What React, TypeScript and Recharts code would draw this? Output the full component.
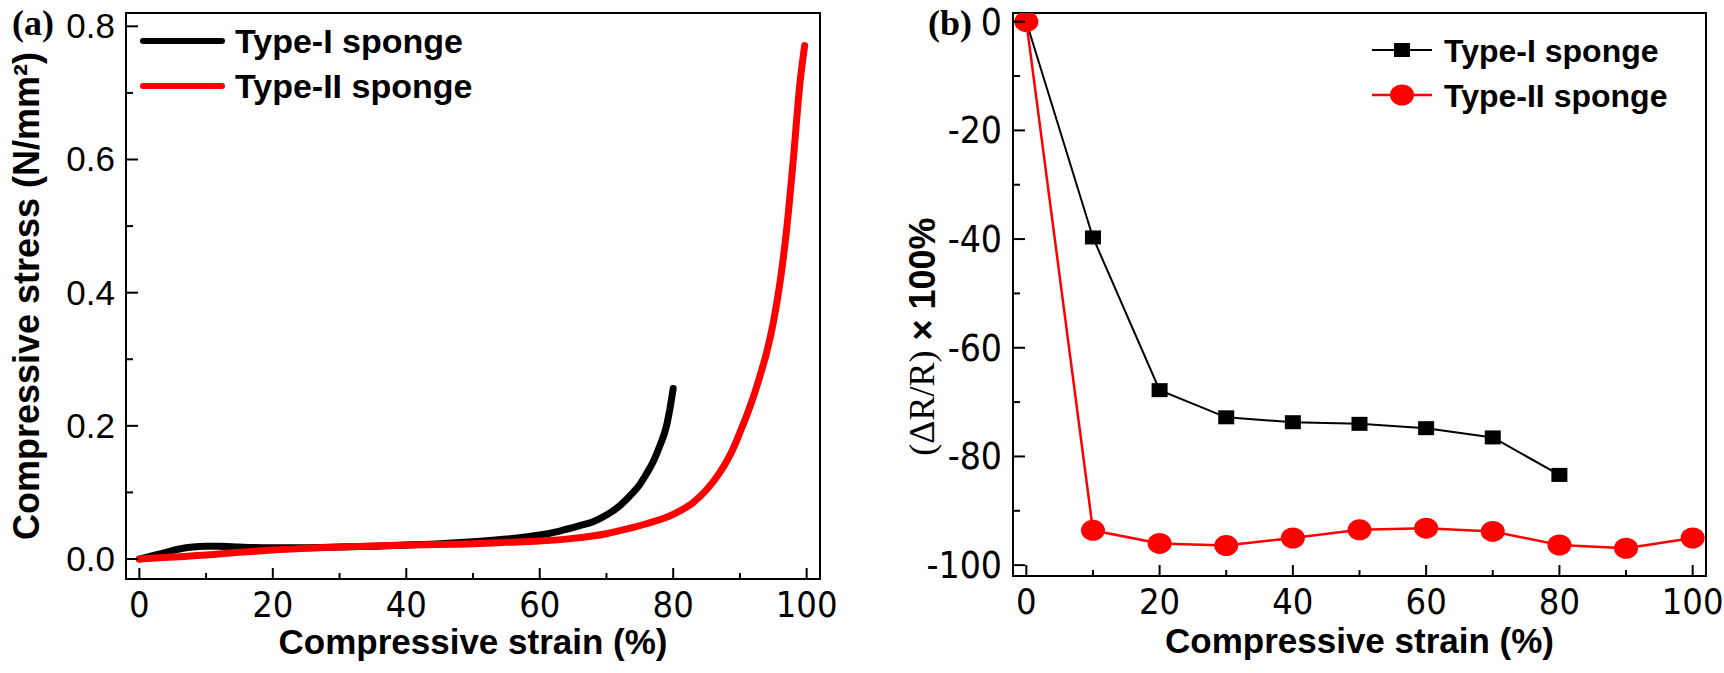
import React from "react";
import { LineChart, Line, XAxis, YAxis, ReferenceArea, Label } from "recharts";

// (a) stress-strain curves
const strainI = [0, 2, 4, 6, 8, 10, 12, 15, 20, 25, 30, 35, 40, 45, 50, 55, 60, 63, 66, 68, 70, 72, 74, 75, 76, 77, 78, 79, 79.5, 80];
const stressI = [0, 0.005, 0.01, 0.015, 0.018, 0.019, 0.019, 0.018, 0.017, 0.017, 0.018, 0.019, 0.021, 0.023, 0.026, 0.03, 0.036, 0.042, 0.05, 0.056, 0.066, 0.08, 0.1, 0.112, 0.128, 0.146, 0.17, 0.2, 0.225, 0.256];
const strainII = [0, 5, 10, 15, 20, 25, 30, 40, 50, 55, 60, 65, 70, 73, 76, 80, 83, 85, 87, 89, 90, 91, 92, 93, 94, 95, 96, 97, 98, 99, 99.7];
const stressII = [0, 0.003, 0.006, 0.01, 0.0135, 0.016, 0.018, 0.021, 0.023, 0.025, 0.027, 0.031, 0.038, 0.045, 0.053, 0.067, 0.085, 0.104, 0.13, 0.166, 0.19, 0.215, 0.243, 0.275, 0.31, 0.355, 0.415, 0.495, 0.6, 0.715, 0.771];

// (b) resistance change
const strainB = [0, 10, 20, 30, 40, 50, 60, 70, 80, 90, 100];
const resistI = [0, -39.7, -67.8, -72.8, -73.7, -74.0, -74.8, -76.5, -83.4];
const resistII = [0, -93.6, -96.0, -96.4, -95.0, -93.5, -93.2, -93.8, -96.3, -96.9, -95.0];

const xTicks = [0, 10, 20, 30, 40, 50, 60, 70, 80, 90, 100];
const yTicksA = [0, 0.1, 0.2, 0.3, 0.4, 0.5, 0.6, 0.7, 0.8];
const yTicksB = [-100, -90, -80, -70, -60, -50, -40, -30, -20, -10, 0];
const seriesNames = ["Type-I sponge", "Type-II sponge"];

const sans = '"Liberation Sans", Arial, Helvetica, sans-serif';
const narrow = '"Liberation Sans Narrow", "Arial Narrow", "DejaVu Sans Condensed", sans-serif';
const serif = '"Liberation Serif", "Times New Roman", serif';
const RED = "#ff0000";

const dataI = strainI.map((x, i) => ({ x, y: stressI[i] }));
const dataII = strainII.map((x, i) => ({ x, y: stressII[i] }));
const dataBI = resistI.map((y, i) => ({ x: strainB[i], y }));
const dataBII = resistII.map((y, i) => ({ x: strainB[i], y }));

const XTick = (props: any) => {
  const { x, y, payload } = props;
  const major = payload.value % 20 === 0;
  return (
    <g>
      <line x1={x} x2={x} y1={y} y2={y - (major ? 11 : 6)} stroke="#000" strokeWidth={2} />
      {major && (
        <text x={x} y={y + 38} textAnchor="middle" fontFamily={narrow} fontSize={36} fill="#000">
          {payload.value}
        </text>
      )}
    </g>
  );
};

const YTickA = (props: any) => {
  const { x, y, payload } = props;
  const major = Math.round(payload.value * 10) % 2 === 0;
  return (
    <g>
      <line x1={x} x2={x + (major ? 12 : 7)} y1={y} y2={y} stroke="#000" strokeWidth={2} />
      {major && (
        <text x={x - 11} y={y + 12} textAnchor="end" fontFamily={sans} fontSize={35} fill="#000">
          {payload.value.toFixed(1)}
        </text>
      )}
    </g>
  );
};

const YTickB = (props: any) => {
  const { x, y, payload } = props;
  const major = payload.value % 20 === 0;
  return (
    <g>
      <line x1={x} x2={x + (major ? 12 : 7)} y1={y} y2={y} stroke="#000" strokeWidth={2} />
      {major && (
        <text x={x - 11} y={y + 13} textAnchor="end" fontFamily={narrow} fontSize={37} fill="#000">
          {payload.value}
        </text>
      )}
    </g>
  );
};

const XTitle = (dy: number) => (props: any) => {
  const { x, y, width } = props.viewBox;
  return (
    <text x={x + width / 2} y={y + dy} textAnchor="middle" fontFamily={sans} fontWeight="bold" fontSize={35} fill="#000">
      Compressive strain (%)
    </text>
  );
};

const YTitleA = (props: any) => {
  const { y, height } = props.viewBox;
  const cx = 26;
  const cy = y + height / 2;
  return (
    <text x={cx} y={cy} transform={`rotate(-90 ${cx} ${cy})`} textAnchor="middle" dominantBaseline="central" fontFamily={sans} fontWeight="bold" fontSize={36} fill="#000">
      Compressive stress (N/mm²)
    </text>
  );
};

const YTitleB = (props: any) => {
  const { y, height } = props.viewBox;
  const cx = 62;
  const cy = y + height / 2 + 42;
  return (
    <text x={cx} y={cy} transform={`rotate(-90 ${cx} ${cy})`} textAnchor="middle" dominantBaseline="central" fontSize={36} fill="#000">
      <tspan fontFamily={serif}>(ΔR/R)</tspan>
      <tspan fontFamily={sans} fontWeight="bold"> × 100%</tspan>
    </text>
  );
};

const LegendA = () => (
  <svg style={{ position: "absolute", left: 130, top: 15 }} width={380} height={100}>
    <line x1={13} x2={92} y1={26} y2={26} stroke="#000" strokeWidth={6} strokeLinecap="round" />
    <text x={105} y={38} fontFamily={sans} fontWeight="bold" fontSize={34}>{seriesNames[0]}</text>
    <line x1={13} x2={92} y1={71} y2={71} stroke={RED} strokeWidth={6} strokeLinecap="round" />
    <text x={105} y={83} fontFamily={sans} fontWeight="bold" fontSize={34}>{seriesNames[1]}</text>
  </svg>
);

const LegendB = () => (
  <svg style={{ position: "absolute", left: 508, top: 15 }} width={340} height={100}>
    <line x1={4} x2={64} y1={35} y2={35} stroke="#000" strokeWidth={2} />
    <rect x={26} y={28} width={16} height={14} fill="#000" />
    <text x={76} y={47} fontFamily={sans} fontWeight="bold" fontSize={32}>{seriesNames[0]}</text>
    <line x1={4} x2={64} y1={80} y2={80} stroke={RED} strokeWidth={2.5} />
    <ellipse cx={34} cy={80} rx={12} ry={10.5} fill={RED} />
    <text x={76} y={92} fontFamily={sans} fontWeight="bold" fontSize={32}>{seriesNames[1]}</text>
  </svg>
);

export default function App() {
  return (
    <div style={{ position: "absolute", left: 0, top: 0, width: 1724, height: 673, background: "#fff" }}>
      <div style={{ position: "absolute", left: 0, top: 0 }}>
        <LineChart width={860} height={673} margin={{ top: 13, right: 40, bottom: 0, left: 0 }}>
          <XAxis type="number" dataKey="x" domain={[-2, 102]} ticks={xTicks} interval={0} allowDataOverflow
            height={94} axisLine={false} tickLine={false} tickSize={0} tickMargin={0} tick={XTick}>
            <Label content={XTitle(75)} />
          </XAxis>
          <YAxis type="number" dataKey="y" domain={[-0.03, 0.82]} ticks={yTicksA} interval={0} allowDataOverflow
            width={126} axisLine={false} tickLine={false} tickSize={0} tickMargin={0} tick={YTickA}>
            <Label content={YTitleA} />
          </YAxis>
          <ReferenceArea x1={-2} x2={102} y1={-0.03} y2={0.82} fill="none" stroke="#000" strokeWidth={2} ifOverflow="visible" />
          <Line data={dataI} dataKey="y" name={seriesNames[0]} type="monotone" stroke="#000" strokeWidth={7} strokeLinecap="round" dot={false} isAnimationActive={false} />
          <Line data={dataII} dataKey="y" name={seriesNames[1]} type="monotone" stroke={RED} strokeWidth={7} strokeLinecap="round" dot={false} isAnimationActive={false} />
        </LineChart>
        <LegendA />
        <svg style={{ position: "absolute", left: 0, top: 0 }} width={80} height={60}>
          <text x={12} y={35} fontFamily={serif} fontWeight="bold" fontSize={36}>(a)</text>
        </svg>
      </div>
      <div style={{ position: "absolute", left: 860, top: 0 }}>
        <LineChart width={864} height={673} margin={{ top: 13, right: 18, bottom: 0, left: 0 }}>
          <XAxis type="number" dataKey="x" domain={[-2, 102]} ticks={xTicks} interval={0} allowDataOverflow
            height={97} axisLine={false} tickLine={false} tickSize={0} tickMargin={0} tick={XTick}>
            <Label content={XTitle(77)} />
          </XAxis>
          <YAxis type="number" dataKey="y" domain={[-102, 1.6]} ticks={yTicksB} interval={0} allowDataOverflow
            width={153} axisLine={false} tickLine={false} tickSize={0} tickMargin={0} tick={YTickB}>
            <Label content={YTitleB} />
          </YAxis>
          <ReferenceArea x1={-2} x2={102} y1={-102} y2={1.6} fill="none" stroke="#000" strokeWidth={2} ifOverflow="visible" />
          <Line data={dataBI} dataKey="y" name={seriesNames[0]} type="linear" stroke="#000" strokeWidth={2} isAnimationActive={false}
            dot={(p: any) => <rect key={`s${p.index}`} x={p.cx - 8} y={p.cy - 7} width={16} height={14} fill="#000" />} />
          <Line data={dataBII} dataKey="y" name={seriesNames[1]} type="linear" stroke={RED} strokeWidth={2.5} isAnimationActive={false}
            dot={(p: any) => <ellipse key={`c${p.index}`} cx={p.cx} cy={p.cy} rx={12} ry={10.5} fill={RED} />} />
        </LineChart>
        <LegendB />
        <svg style={{ position: "absolute", left: 0, top: 0 }} width={120} height={60}>
          <text x={68} y={35} fontFamily={serif} fontWeight="bold" fontSize={36}>(b)</text>
        </svg>
      </div>
    </div>
  );
}
